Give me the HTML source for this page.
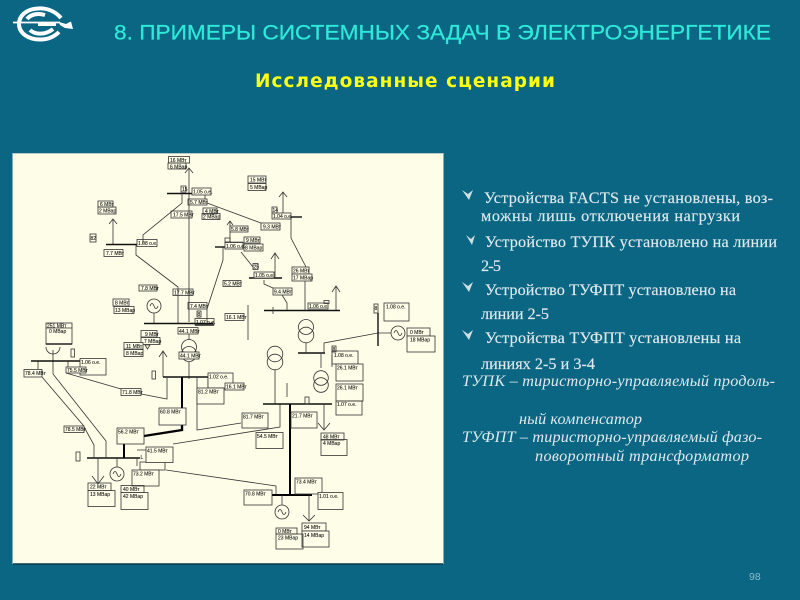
<!DOCTYPE html>
<html lang="ru"><head><meta charset="utf-8"><title>Примеры системных задач</title>
<style>
html,body{margin:0;padding:0;background:#0a6683;width:800px;height:600px;overflow:hidden}
svg{display:block;position:absolute;left:0;top:0}
.t{font:21px "Liberation Sans",sans-serif;fill:#2fe8d8;stroke:#2fe8d8;stroke-width:.25}
.s{font:bold 18.500px "DejaVu Sans",sans-serif;fill:#ffff10}
.b{font:16.200px "Liberation Serif",serif;fill:#dfe9ec;stroke:#dfe9ec;stroke-width:.15}
.i{font:italic 16.200px "Liberation Serif",serif;fill:#dfe9ec}
#d text{font:5px "Liberation Sans",sans-serif;fill:#111;stroke:#111;stroke-width:.08}
#d rect{fill:none;stroke:#333;stroke-width:.8}
#d path,#d line,#d circle{fill:none;stroke:#333;stroke-width:.8}
#d .k{stroke:#111;stroke-width:1.400}
#d .h{stroke:#000;stroke-width:2}
#d .h2{stroke:#000;stroke-width:2.400}
</style></head><body>
<svg width="800" height="600" viewBox="0 0 800 600" xmlns="http://www.w3.org/2000/svg">
<rect width="800" height="600" fill="#0a6683"/>
<!-- logo -->
<g fill="none" stroke="#fff" stroke-width="4">
<path d="M61 18C54 10 45 8 38 8.500C26 9 19 16 19 24C19 33 28 39.500 40 39.500C48 39.500 54 37 59 32"/>
<path d="M27 19C31 14 38 13 45 15"/>
<path d="M30 30C35 35 46 35 53 29"/>
<path d="M13 22.500H60" stroke-width="1.800"/>
<path d="M38 24.500H56" stroke-width="3"/>
</g>
<path d="M59 22L66 24L71 21.500L73 29L65 28L60 25Z" fill="#fff"/>
<text class="t" x="114" y="39.500" textLength="657" lengthAdjust="spacingAndGlyphs">8. ПРИМЕРЫ СИСТЕМНЫХ ЗАДАЧ В ЭЛЕКТРОЭНЕРГЕТИКЕ</text>
<text class="s" x="255" y="87" textLength="300" lengthAdjust="spacing">Исследованные сценарии</text>
<!-- panel -->
<rect x="12.500" y="153" width="431" height="411" fill="#fdfde8"/>
<path d="M13 153.500H443" stroke="#b9c8c4" stroke-width="1"/>
<path d="M13 564H443" stroke="#0a3a50" stroke-width="1.400"/>
<g id="d" style="filter:blur(.25px)">
<!-- lines -->
<path d="M189 168V322"/><path d="M185 173L189 168L193 173"/>
<path class="k" d="M167 193.500H192"/>
<path d="M182 193V203L143 235V244"/>
<path d="M207 203L261 223"/><path d="M205 195V199"/>
<path d="M113 244V219M109 224L113 219L117 224"/>
<path class="k" d="M106 244.500H137"/>
<path d="M136 245V255L178 287V323"/>
<path d="M154 313V323"/><circle cx="154" cy="306" r="7"/><path d="M150 306Q152 301 154 306T158 306"/>
<path class="k" d="M144 323.500H213"/><path class="k" d="M195 325H214"/>
<path d="M207 322V309L223 260V247"/><path class="k" d="M215 247H225"/>
<path d="M189 334V340"/><circle cx="189" cy="347" r="7.500"/><circle cx="189" cy="354" r="7.500"/>
<path d="M145 345H150L147.500 349Z"/><path d="M147.500 337V345"/>
<path d="M163 351V377M159 357L163 351L167 357"/>
<path d="M189 362V379"/>
<path class="k" d="M163 377H230"/>
<path class="h" d="M182 377V408"/>
<path class="h2" d="M182 425V430L144 436"/>
<path class="h" d="M124 444V458"/>
<path class="k" d="M87 458H140"/>
<path d="M208 377V388"/>
<path d="M197 377V430L241 423"/>
<path d="M173 444L280 427V404"/>
<path d="M166 470L276 486V495"/>
<path d="M141 394L167 399V377"/><path d="M66 373L121 389"/>
<path d="M53 350V374L106 441V458"/>
<path d="M38 361V369M42 377L83 425L94 445V458"/>
<path d="M68 361V367"/>
<path class="k" d="M31 361H80"/>
<path d="M46 344H72" class="k"/>
<path d="M46 347A7 7 0 0 0 60 347"/>
<path d="M98 458V483M92 476L98 484L104 476"/>
<path d="M117 458V467"/><circle cx="117" cy="474" r="7"/><path d="M113 474Q115 469 117 474T121 474"/>
<path d="M137 458V466M137 450H146"/>
<!-- upper right -->
<path d="M283 213V192M279 197L283 192L287 197"/>
<path class="k" d="M291 217H302"/>
<path d="M291 217V238L306 267"/>
<path d="M305 281V310"/>
<path class="k" d="M264 310.500H340"/>
<path d="M336 310V286M332 292L336 286L340 292"/>
<path d="M273 307V314"/>
<path d="M264 280V284L273 288M282 295L287 303V310"/>
<path class="k" d="M249 278H282"/>
<path d="M275 278V253M271 259L275 253L279 259"/>
<path d="M241 252L253 267"/>
<path class="k" d="M225 242.500H243"/>
<path d="M230 242V221M227 225L230 221L233 225"/>
<path d="M248 305V340"/>
<circle cx="306" cy="327" r="7.500"/><circle cx="306" cy="335" r="7.800"/>
<path class="k" d="M298 353H325"/>
<path d="M306 343V353"/>
<path d="M324 353V343L378 333H391"/>
<path class="k" d="M378 313V346"/>
<circle cx="398" cy="333" r="7"/><path d="M394 333Q396 328 398 333T402 333"/>
<path d="M321 353V368"/>
<circle cx="321" cy="378" r="7.300"/><circle cx="321" cy="385" r="7.300"/>
<path d="M332 355V367"/>
<circle cx="275" cy="354" r="7.800"/><circle cx="275" cy="362" r="7.800"/>
<path d="M275 370V404"/>
<path d="M287 383V397"/>
<path class="k" d="M263 404H332"/>
<path class="h" d="M290 404V495"/>
<path d="M324 404V429M318 423L324 430L330 423"/>
<path class="h" d="M272 495H312"/>
<path d="M282 495V505"/><circle cx="282" cy="512" r="7"/><path d="M278 512Q280 507 282 512T286 512"/>
<path d="M309 495V521M303 515L309 521L315 515"/>
<!-- boxes -->
<rect x="168.500" y="156.500" width="21" height="6.500"/><text x="170" y="162">16 МВт</text>
<rect x="168" y="163" width="18" height="6"/><text x="170" y="168.500">6 МВар</text>
<rect x="181" y="186" width="5" height="6" fill="#ccc"/><text x="182" y="191">15</text>
<rect x="192" y="188" width="19" height="7"/><text x="193" y="193.500">1.05 о.е.</text>
<rect x="188" y="199" width="19" height="6"/><text x="190" y="204">5.7 МВт</text>
<rect x="203" y="208" width="14" height="6"/><text x="205" y="213">4 МВт</text>
<rect x="202" y="213.500" width="18" height="6"/><text x="203" y="218.500">2 МВар</text>
<rect x="171" y="211" width="21" height="7"/><text x="173" y="216.500">17.5 МВт</text>
<rect x="98" y="201" width="15" height="6"/><text x="100" y="206">6 МВт</text>
<rect x="98" y="207" width="18" height="7"/><text x="99" y="212.500">2 МВар</text>
<rect x="137" y="239.500" width="20" height="7"/><text x="138" y="245">1.08 о.е.</text>
<rect x="104" y="249.500" width="19" height="7"/><text x="106" y="255">7.7 МВт</text>
<rect x="90" y="234" width="6" height="8"/><text x="90.500" y="240">82</text>
<rect x="173" y="289" width="20" height="6.500"/><text x="174" y="294.500">17.7 МВт</text>
<rect x="139" y="285" width="18" height="6"/><text x="141" y="290">7.8 МВт</text>
<rect x="113" y="299" width="16" height="7"/><text x="115" y="304.500">8 МВт</text>
<rect x="114" y="306.500" width="20" height="7"/><text x="115" y="312">13 МВар</text>
<rect x="188" y="302.500" width="19" height="6.500"/><text x="190" y="308">7.4 МВт</text>
<rect x="197" y="311" width="4" height="6"/><text x="197.500" y="316">8</text>
<rect x="195" y="318.500" width="19" height="6.500"/><text x="196" y="324">1.07 о.е.</text>
<rect x="178" y="327.500" width="20" height="6.500"/><text x="179" y="333">44.1 МВт</text>
<rect x="179" y="352" width="20" height="7" style="fill:#fdfde8"/><text x="180" y="357.500">44.1 МВт</text>
<rect x="141" y="330.500" width="16" height="6.500" style="fill:#fdfde8"/><text x="145" y="336">9 МВт</text>
<rect x="141" y="337.500" width="19" height="7" style="fill:#fdfde8"/><text x="144" y="343">7 МВар</text>
<rect x="124" y="342.500" width="19" height="6.500" style="fill:#fdfde8"/><text x="126" y="348">11 МВт</text>
<rect x="124" y="349.500" width="19" height="7" style="fill:#fdfde8"/><text x="126" y="355">8 МВар</text>
<rect x="46" y="323" width="26" height="21"/><path d="M46 328H72"/><text x="47" y="327.500">251 МВт</text><text x="49" y="333">0 МВар</text>
<rect x="71" y="349" width="3.500" height="8"/>
<rect x="223" y="280.500" width="18" height="6"/><text x="224" y="285.500">5.2 МВт</text>
<rect x="225" y="313.500" width="19" height="7"/><text x="226" y="319">16.1 МВт</text>
<rect x="248" y="176" width="18" height="7"/><text x="250" y="181.500">15 МВт</text>
<rect x="248" y="183.500" width="18" height="7"/><text x="250" y="189">5 МВар</text>
<rect x="272" y="207" width="5" height="6"/><text x="272.500" y="212">14</text>
<rect x="272" y="213" width="19" height="6"/><text x="273" y="218">1.04 о.е.</text>
<rect x="261" y="223" width="19" height="7" style="fill:#fdfde8"/><text x="263" y="228.500">9.3 МВт</text>
<rect x="292" y="267" width="17" height="7" style="fill:#fdfde8"/><text x="293" y="272.500">26 МВт</text>
<rect x="292" y="274" width="20" height="7" style="fill:#fdfde8"/><text x="293" y="279.500">17 МВар</text>
<rect x="308" y="303" width="20" height="6"/><text x="309" y="308">1.06 о.е.</text>
<rect x="324" y="300.500" width="5" height="3"/>
<rect x="273" y="288" width="19" height="7" style="fill:#fdfde8"/><text x="274" y="293.500">9.4 МВт</text>
<rect x="254" y="272" width="20" height="6" style="fill:#fdfde8"/><text x="255" y="277">1.05 о.е.</text>
<rect x="253" y="263.500" width="5" height="6"/><text x="253.500" y="268.500">25</text>
<rect x="225" y="238" width="5" height="4"/>
<rect x="225" y="242.500" width="18" height="6.500" style="fill:#fdfde8"/><text x="226" y="248">1.06 о.е.</text>
<rect x="244" y="237" width="16" height="6"/><text x="246" y="242">9 МВт</text>
<rect x="244" y="244" width="19" height="7"/><text x="245" y="249.500">8 МВар</text>
<rect x="230" y="226" width="18" height="6" style="fill:#fdfde8"/><text x="231" y="231">5.8 МВт</text>
<rect x="374" y="304" width="4" height="9"/><text x="374.500" y="310">8</text>
<rect x="384" y="303" width="25" height="18"/><text x="386" y="308.500">1.08 о.е.</text>
<rect x="407" y="328" width="23" height="8"/><text x="410" y="334">0 МВт</text>
<rect x="407" y="336" width="28" height="16" style="fill:#fdfde8"/><text x="410" y="341.500">18 МВар</text>
<rect x="332" y="346" width="4" height="6"/><text x="332.500" y="351">8</text>
<rect x="332" y="351" width="26" height="13"/><text x="334" y="357">1.08 о.е.</text>
<rect x="336" y="364" width="27" height="17" style="fill:#fdfde8"/><text x="337" y="369.500">26.1 МВт</text>
<rect x="336" y="384" width="27" height="17"/><text x="337" y="389.500">26.1 МВт</text>
<rect x="336" y="401" width="26" height="14"/><text x="337" y="406">1.07 о.е.</text>
<rect x="305" y="397" width="4" height="7"/>
<rect x="242" y="413" width="26" height="15" style="fill:#fdfde8"/><text x="243" y="418.500">81.7 МВт</text>
<rect x="256" y="432.500" width="27" height="16" style="fill:#fdfde8"/><text x="257" y="438">54.5 МВт</text>
<rect x="291" y="412" width="26" height="16"/><text x="292" y="417.500">21.7 МВт</text>
<rect x="321" y="433" width="23" height="7"/><text x="323" y="438.500">48 МВт</text>
<rect x="321" y="439.500" width="26" height="16"/><text x="323" y="445">4 МВар</text>
<rect x="295" y="478" width="27" height="16"/><text x="296" y="483.500">73.4 МВт</text>
<rect x="318" y="492.500" width="25" height="17" style="fill:#fdfde8"/><text x="319" y="498">1.01 о.е.</text>
<rect x="244" y="490" width="28" height="15" style="fill:#fdfde8"/><text x="245" y="495.500">70.8 МВт</text>
<rect x="302" y="523" width="24" height="8"/><text x="304" y="529">94 МВт</text>
<rect x="302" y="531" width="27" height="16" style="fill:#fdfde8"/><text x="304" y="537">14 МВар</text>
<rect x="276" y="528" width="21" height="6"/><text x="278" y="533">0 МВт</text>
<rect x="276" y="534" width="27" height="15"/><text x="278" y="539.500">23 МВар</text>
<rect x="80" y="358.500" width="26" height="16.500"/><text x="81" y="364">1.06 о.е.</text>
<rect x="24" y="369.500" width="18" height="7.500"/><text x="25" y="375">78.4 МВт</text>
<rect x="66" y="367" width="20" height="6" style="fill:#fdfde8"/><text x="67" y="372">75.5 МВт</text>
<rect x="121" y="388.500" width="20" height="7"/><text x="122" y="394">71.8 МВт</text>
<rect x="64" y="426" width="20" height="6.500" style="fill:#fdfde8"/><text x="65" y="431">78.5 МВт</text>
<rect x="159" y="408" width="27" height="17" style="fill:#fdfde8"/><text x="160" y="413.500">60.8 МВт</text>
<rect x="117" y="428" width="27" height="16" style="fill:#fdfde8"/><text x="118" y="433.500">56.2 МВт</text>
<rect x="76" y="452" width="4" height="9"/>
<rect x="152" y="371" width="3.500" height="8"/>
<rect x="208" y="373" width="25" height="15" style="fill:#fdfde8"/><text x="209" y="378.500">1.02 о.е.</text>
<rect x="197" y="388" width="27" height="16" style="fill:#fdfde8"/><text x="198" y="393.500">81.2 МВт</text>
<rect x="225" y="383" width="19" height="7" style="fill:#fdfde8"/><text x="226" y="388.500">16.1 МВт</text>
<rect x="88" y="483" width="23" height="7.500"/><text x="90" y="488.500">22 МВт</text>
<rect x="88" y="490.500" width="27" height="16" style="fill:#fdfde8"/><text x="90" y="496">13 МВар</text>
<rect x="140" y="462" width="25" height="8"/>
<rect x="146" y="447" width="27" height="15.500" style="fill:#fdfde8"/><text x="147" y="452.500">41.5 МВт</text>
<text x="140.500" y="459">L</text>
<rect x="132" y="470" width="27" height="16" style="fill:#fdfde8"/><text x="133" y="475.500">73.2 МВт</text>
<rect x="121" y="485.500" width="23" height="7"/><text x="123" y="491">40 МВт</text>
<rect x="121" y="492.500" width="27" height="17" style="fill:#fdfde8"/><text x="123" y="498">42 МВар</text>
</g>
<!-- bullets -->
<g fill="#cfe0e2">
<path d="M462 190L468 194L473 190L469 200Z"/>
<path d="M466 235L471 239L475 235L472 245Z"/>
<path d="M462 282L468 286L473 282L469 292Z"/>
<path d="M462 330L468 334L473 330L469 340Z"/>
</g>
<text class="b" x="484" y="203" textLength="289" lengthAdjust="spacing">Устройства FACTS не установлены, воз-</text>
<text class="b" x="481" y="221" textLength="259" lengthAdjust="spacing">можны  лишь  отключения нагрузки</text>
<text class="b" x="485" y="247" textLength="292" lengthAdjust="spacing">Устройство ТУПК установлено на линии</text>
<text class="b" x="481" y="271" textLength="20" lengthAdjust="spacing">2-5</text>
<text class="b" x="485" y="295" textLength="251" lengthAdjust="spacing">Устройство ТУФПТ установлено на</text>
<text class="b" x="481" y="319" textLength="68" lengthAdjust="spacing">линии 2-5</text>
<text class="b" x="485" y="343" textLength="256" lengthAdjust="spacing">Устройства ТУФПТ установлены на</text>
<text class="b" x="481" y="369" textLength="114" lengthAdjust="spacing">линиях 2-5 и 3-4</text>
<text class="i" x="462" y="386" textLength="313" lengthAdjust="spacing">ТУПК – тиристорно-управляемый  продоль-</text>
<text class="i" x="519" y="424" textLength="123" lengthAdjust="spacing">ный компенсатор</text>
<text class="i" x="462" y="442" textLength="300" lengthAdjust="spacing">ТУФПТ – тиристорно-управляемый  фазо-</text>
<text class="i" x="535" y="461" textLength="214" lengthAdjust="spacing">поворотный   трансформатор</text>
<text x="749" y="580" font-family="Liberation Sans, sans-serif" font-size="10.500" fill="#8fbccb">98</text>
</svg>
</body></html>
